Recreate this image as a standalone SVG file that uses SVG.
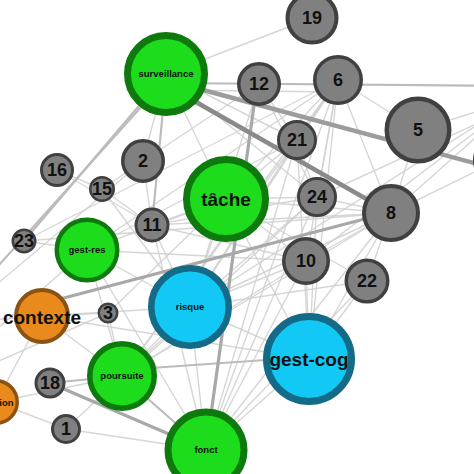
<svg xmlns="http://www.w3.org/2000/svg" width="474" height="474" viewBox="0 0 474 474">
<style>
text{font-family:"Liberation Sans",Arial,sans-serif;font-weight:bold;fill:#111;text-anchor:middle}
.num{font-size:18px}
.sm{font-size:9.5px}
.big{font-size:19px}
.g{fill:#808080;stroke:#404040}
.gr{fill:#1cdc1c;stroke:#0e7a0e}
.b{fill:#12c9f5;stroke:#146b87}
.o{fill:#e88a1c;stroke:#8b5312}
#edges line{stroke-linecap:round}
.e1{stroke:#d0d0d0;stroke-width:1.4;opacity:.85}
.e5{stroke:#bcbcbc;stroke-width:2.2}
.e2{stroke:#a8a8a8;stroke-width:3.2}
.e3{stroke:#9c9c9c;stroke-width:4.5}
.e4{stroke:#8a8a8a;stroke-width:4.5}
</style>
<rect width="474" height="474" fill="#fff"/>
<g id="edges">
<line class="e1" x1="312" y1="18" x2="166" y2="74"/>
<line class="e1" x1="166" y1="74" x2="143" y2="161"/>
<line class="e1" x1="166" y1="74" x2="297" y2="140"/>
<line class="e1" x1="166" y1="74" x2="317" y2="197"/>
<line class="e1" x1="166" y1="74" x2="226" y2="199"/>
<line class="e1" x1="143" y1="161" x2="259" y2="84"/>
<line class="e1" x1="143" y1="161" x2="152" y2="225"/>
<line class="e1" x1="57" y1="170" x2="102" y2="189"/>
<line class="e1" x1="102" y1="189" x2="143" y2="161"/>
<line class="e1" x1="102" y1="189" x2="152" y2="225"/>
<line class="e1" x1="102" y1="189" x2="190" y2="307"/>
<line class="e1" x1="57" y1="170" x2="152" y2="225"/>
<line class="e1" x1="152" y1="225" x2="226" y2="199"/>
<line class="e1" x1="152" y1="225" x2="317" y2="197"/>
<line class="e1" x1="152" y1="225" x2="190" y2="307"/>
<line class="e1" x1="152" y1="225" x2="206" y2="450"/>
<line class="e1" x1="152" y1="225" x2="306" y2="261"/>
<line class="e1" x1="152" y1="225" x2="391" y2="213"/>
<line class="e1" x1="24" y1="241" x2="87" y2="250"/>
<line class="e1" x1="24" y1="241" x2="391" y2="213"/>
<line class="e1" x1="24" y1="241" x2="338" y2="80"/>
<line class="e1" x1="87" y1="250" x2="338" y2="80"/>
<line class="e1" x1="87" y1="250" x2="297" y2="140"/>
<line class="e1" x1="87" y1="250" x2="190" y2="307"/>
<line class="e1" x1="87" y1="250" x2="206" y2="450"/>
<line class="e1" x1="87" y1="250" x2="122" y2="376"/>
<line class="e1" x1="87" y1="250" x2="306" y2="261"/>
<line class="e1" x1="87" y1="250" x2="226" y2="199"/>
<line class="e1" x1="42" y1="316" x2="122" y2="376"/>
<line class="e1" x1="42" y1="316" x2="190" y2="307"/>
<line class="e1" x1="42" y1="316" x2="309" y2="359"/>
<line class="e1" x1="42" y1="316" x2="-10" y2="320"/>
<line class="e1" x1="42" y1="316" x2="108" y2="313"/>
<line class="e1" x1="-10" y1="365" x2="108" y2="313"/>
<line class="e1" x1="-10" y1="290" x2="143" y2="161"/>
<line class="e1" x1="-10" y1="335" x2="87" y2="250"/>
<line class="e1" x1="108" y1="313" x2="122" y2="376"/>
<line class="e1" x1="108" y1="313" x2="226" y2="199"/>
<line class="e1" x1="122" y1="376" x2="190" y2="307"/>
<line class="e1" x1="128" y1="372" x2="196" y2="312"/>
<line class="e1" x1="122" y1="376" x2="297" y2="140"/>
<line class="e1" x1="122" y1="376" x2="317" y2="197"/>
<line class="e1" x1="122" y1="376" x2="338" y2="80"/>
<line class="e1" x1="122" y1="376" x2="391" y2="213"/>
<line class="e1" x1="122" y1="376" x2="306" y2="261"/>
<line class="e1" x1="66" y1="429" x2="122" y2="376"/>
<line class="e1" x1="66" y1="429" x2="206" y2="450"/>
<line class="e1" x1="-4" y1="402" x2="66" y2="429"/>
<line class="e1" x1="-4" y1="402" x2="42" y2="316"/>
<line class="e1" x1="-4" y1="402" x2="122" y2="376"/>
<line class="e1" x1="190" y1="307" x2="338" y2="80"/>
<line class="e1" x1="190" y1="307" x2="297" y2="140"/>
<line class="e1" x1="190" y1="307" x2="317" y2="197"/>
<line class="e1" x1="190" y1="307" x2="391" y2="213"/>
<line class="e1" x1="190" y1="307" x2="259" y2="84"/>
<line class="e1" x1="190" y1="307" x2="206" y2="450"/>
<line class="e1" x1="190" y1="307" x2="309" y2="359"/>
<line class="e1" x1="190" y1="307" x2="306" y2="261"/>
<line class="e1" x1="190" y1="307" x2="367" y2="281"/>
<line class="e1" x1="190" y1="307" x2="520" y2="98"/>
<line class="e1" x1="226" y1="199" x2="338" y2="80"/>
<line class="e1" x1="226" y1="199" x2="297" y2="140"/>
<line class="e1" x1="226" y1="199" x2="317" y2="197"/>
<line class="e1" x1="226" y1="199" x2="391" y2="213"/>
<line class="e1" x1="226" y1="199" x2="306" y2="261"/>
<line class="e1" x1="226" y1="199" x2="309" y2="359"/>
<line class="e1" x1="226" y1="199" x2="190" y2="307"/>
<line class="e1" x1="226" y1="199" x2="367" y2="281"/>
<line class="e1" x1="206" y1="450" x2="306" y2="261"/>
<line class="e1" x1="206" y1="450" x2="317" y2="197"/>
<line class="e1" x1="206" y1="450" x2="391" y2="213"/>
<line class="e1" x1="206" y1="450" x2="367" y2="281"/>
<line class="e1" x1="206" y1="450" x2="338" y2="80"/>
<line class="e1" x1="206" y1="450" x2="297" y2="140"/>
<line class="e1" x1="206" y1="450" x2="309" y2="359"/>
<line class="e1" x1="309" y1="359" x2="306" y2="261"/>
<line class="e1" x1="309" y1="359" x2="391" y2="213"/>
<line class="e1" x1="309" y1="359" x2="367" y2="281"/>
<line class="e1" x1="309" y1="359" x2="317" y2="197"/>
<line class="e1" x1="309" y1="359" x2="338" y2="80"/>
<line class="e1" x1="309" y1="359" x2="297" y2="140"/>
<line class="e1" x1="367" y1="281" x2="391" y2="213"/>
<line class="e1" x1="306" y1="261" x2="391" y2="213"/>
<line class="e1" x1="317" y1="197" x2="391" y2="213"/>
<line class="e1" x1="297" y1="140" x2="338" y2="80"/>
<line class="e1" x1="297" y1="140" x2="317" y2="197"/>
<line class="e1" x1="259" y1="84" x2="297" y2="140"/>
<line class="e1" x1="259" y1="84" x2="317" y2="197"/>
<line class="e1" x1="338" y1="80" x2="317" y2="197"/>
<line class="e1" x1="338" y1="80" x2="306" y2="261"/>
<line class="e1" x1="338" y1="80" x2="391" y2="213"/>
<line class="e1" x1="418" y1="130" x2="391" y2="213"/>
<line class="e1" x1="418" y1="130" x2="520" y2="98"/>
<line class="e1" x1="391" y1="213" x2="520" y2="98"/>
<line class="e1" x1="306" y1="261" x2="520" y2="98"/>
<line class="e1" x1="317" y1="197" x2="520" y2="104"/>
<line class="e1" x1="391" y1="213" x2="499" y2="160"/>
<line class="e1" x1="338" y1="80" x2="418" y2="130"/>
<line class="e1" x1="166" y1="90" x2="338" y2="92"/>
<line class="e5" x1="166" y1="83" x2="520" y2="86"/>
<line class="e5" x1="166" y1="74" x2="24" y2="241"/>
<line class="e5" x1="160" y1="86" x2="-10" y2="275"/>
<line class="e5" x1="163" y1="110" x2="152" y2="225"/>
<line class="e5" x1="122" y1="370" x2="309" y2="357"/>
<line class="e5" x1="50" y1="383" x2="122" y2="376"/>
<line class="e5" x1="122" y1="376" x2="206" y2="450"/>
<line class="e2" x1="41" y1="304" x2="391" y2="212"/>
<line class="e2" x1="257" y1="84" x2="206" y2="450"/>
<line class="e2" x1="50" y1="383" x2="206" y2="450"/>
<line class="e3" x1="166" y1="80" x2="500" y2="170"/>
<line class="e4" x1="166" y1="85" x2="391" y2="213"/>
</g>
<g id="node-R1"><circle class="g" cx="499" cy="160" r="24" stroke-width="4"/></g>
<g id="node-19"><circle class="g" cx="312" cy="18" r="24.5" stroke-width="4"/><text class="num" x="312" y="18" dy=".35em">19</text></g>
<g id="node-12"><circle class="g" cx="259" cy="84" r="20.25" stroke-width="3.5"/><text class="num" x="259" y="84" dy=".35em">12</text></g>
<g id="node-6"><circle class="g" cx="338" cy="80" r="23.25" stroke-width="3.5"/><text class="num" x="338" y="80" dy=".35em">6</text></g>
<g id="node-5"><circle class="g" cx="418" cy="130" r="31.25" stroke-width="4.5"/><text class="num" x="418" y="130" dy=".35em">5</text></g>
<g id="node-21"><circle class="g" cx="297" cy="140" r="18.5" stroke-width="3"/><text class="num" x="297" y="140" dy=".35em">21</text></g>
<g id="node-24"><circle class="g" cx="317" cy="197" r="18.5" stroke-width="3"/><text class="num" x="317" y="197" dy=".35em">24</text></g>
<g id="node-8"><circle class="g" cx="391" cy="213" r="27" stroke-width="4"/><text class="num" x="391" y="213" dy=".35em">8</text></g>
<g id="node-10"><circle class="g" cx="306" cy="261" r="22.25" stroke-width="3.5"/><text class="num" x="306" y="261" dy=".35em">10</text></g>
<g id="node-22"><circle class="g" cx="367" cy="281" r="20.75" stroke-width="3.5"/><text class="num" x="367" y="281" dy=".35em">22</text></g>
<g id="node-2"><circle class="g" cx="143" cy="161" r="20.25" stroke-width="3.5"/><text class="num" x="143" y="161" dy=".35em">2</text></g>
<g id="node-16"><circle class="g" cx="57" cy="170" r="15.5" stroke-width="3"/><text class="num" x="57" y="170" dy=".35em">16</text></g>
<g id="node-15"><circle class="g" cx="102" cy="189" r="11.75" stroke-width="2.5"/><text class="num" x="102" y="189" dy=".35em">15</text></g>
<g id="node-11"><circle class="g" cx="152" cy="225" r="16" stroke-width="3"/><text class="num" x="152" y="225" dy=".35em">11</text></g>
<g id="node-23"><circle class="g" cx="24" cy="241" r="11.25" stroke-width="2.5"/><text class="num" x="24" y="241" dy=".35em">23</text></g>
<g id="node-3"><circle class="g" cx="108" cy="313" r="9.25" stroke-width="2.5"/><text class="num" x="108" y="313" dy=".35em">3</text></g>
<g id="node-18"><circle class="g" cx="50" cy="383" r="14" stroke-width="3"/><text class="num" x="50" y="383" dy=".35em">18</text></g>
<g id="node-1"><circle class="g" cx="66" cy="429" r="13.5" stroke-width="3"/><text class="num" x="66" y="429" dy=".35em">1</text></g>
<g id="node-surveillance"><circle class="gr" cx="166" cy="74" r="38.5" stroke-width="7"/><text class="sm" x="166" y="74" dy=".35em">surveillance</text></g>
<g id="node-tache"><circle class="gr" cx="226" cy="199" r="39.5" stroke-width="7"/><text class="big" x="226" y="199" dy=".35em">tâche</text></g>
<g id="node-gest-res"><circle class="gr" cx="87" cy="250" r="30.25" stroke-width="4.5"/><text class="sm" x="87" y="250" dy=".35em">gest-res</text></g>
<g id="node-poursuite"><circle class="gr" cx="122" cy="376" r="32.25" stroke-width="5.5"/><text class="sm" x="122" y="376" dy=".35em">poursuite</text></g>
<g id="node-fonct"><circle class="gr" cx="206" cy="450" r="38" stroke-width="7"/><text class="sm" x="206" y="450" dy=".35em">fonct</text></g>
<g id="node-risque"><circle class="b" cx="190" cy="307" r="38.75" stroke-width="6.5"/><text class="sm" x="190" y="307" dy=".35em">risque</text></g>
<g id="node-gest-cog"><circle class="b" cx="309" cy="359" r="42.5" stroke-width="7"/><text class="big" x="309" y="359" dy=".35em">gest-cog</text></g>
<g id="node-contexte"><circle class="o" cx="42" cy="316" r="26" stroke-width="4"/><text class="big" x="42" y="317" dy=".35em">contexte</text></g>
<g id="node-ion"><circle class="o" cx="-4" cy="402" r="21.25" stroke-width="3.5"/><text class="sm" x="13.5" y="403" dy=".35em" style="text-anchor:end">ion</text></g>
</svg>
